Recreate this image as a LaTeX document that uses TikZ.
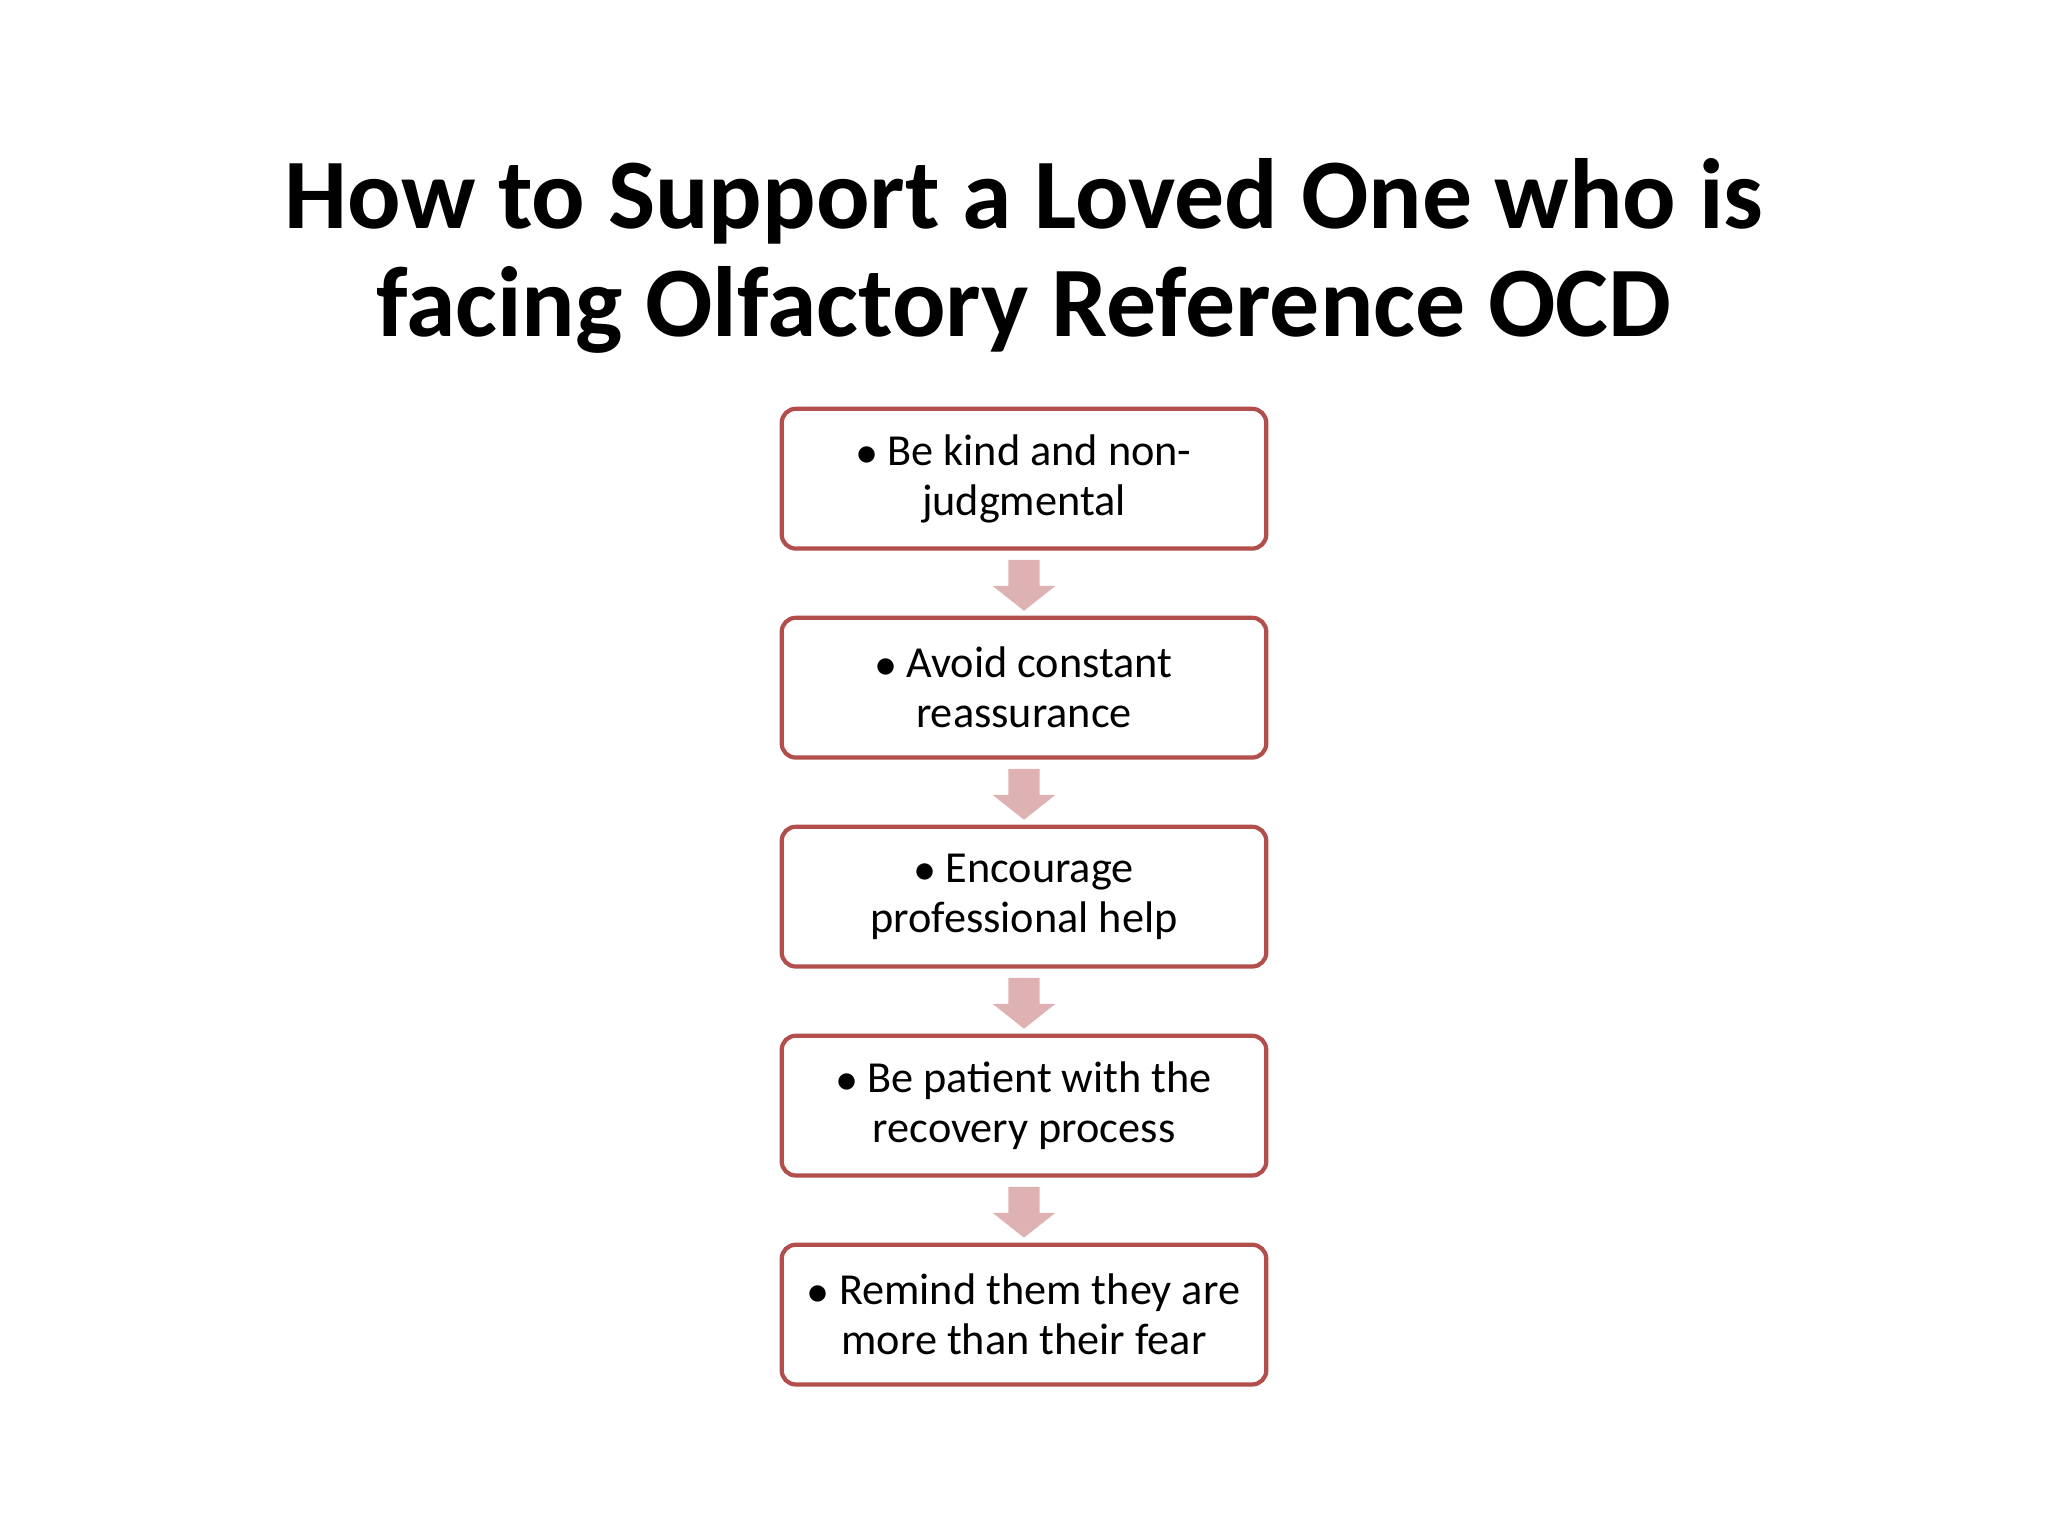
\documentclass[tikz,border=0pt]{standalone}
\usepackage{fontspec}
\setmainfont{Carlito}
\begin{document}
\begin{tikzpicture}[x=0.013061cm,y=-0.013061cm,
  stepbox/.style={draw=boxred,line width=1.2pt,rounded corners=4pt,minimum width=371*0.013061cm,minimum height=107*0.013061cm,align=center,font=\fontsize{12.6}{14.2}\selectfont},
  arr/.style={fill=arrpink,draw=none}]
\definecolor{boxred}{RGB}{178,78,76}
\definecolor{arrpink}{RGB}{222,178,178}
\useasboundingbox (0,0) rectangle (1568,1176);
\node[font=\bfseries\fontsize{28.4}{30.5}\selectfont,align=center] (title) at (784,196) {How to Support a Loved One who is\\facing Olfactory Reference OCD};
\foreach \i/\t in {0/{$\bullet$ Be kind and non-\\judgmental},1/{$\bullet$ Avoid constant\\reassurance},2/{$\bullet$ Encourage\\professional help},3/{$\bullet$ Be patient with the\\recovery process},4/{$\bullet$ Remind them they are\\more than their fear}}{
  \node[stepbox] (b\i) at (784,{366.5+160*\i}) {\t};
}
\foreach \i in {0,1,2,3}{
  \path (b\i.south) ++(0,7) coordinate (a\i);
  \fill[arr] (a\i) ++(-12,0) -- ++(24,0) -- ++(0,20) -- ++(12,0) -- ++(-24,19) -- ++(-24,-19) -- ++(12,0) -- cycle;
}
\end{tikzpicture}
\end{document}
